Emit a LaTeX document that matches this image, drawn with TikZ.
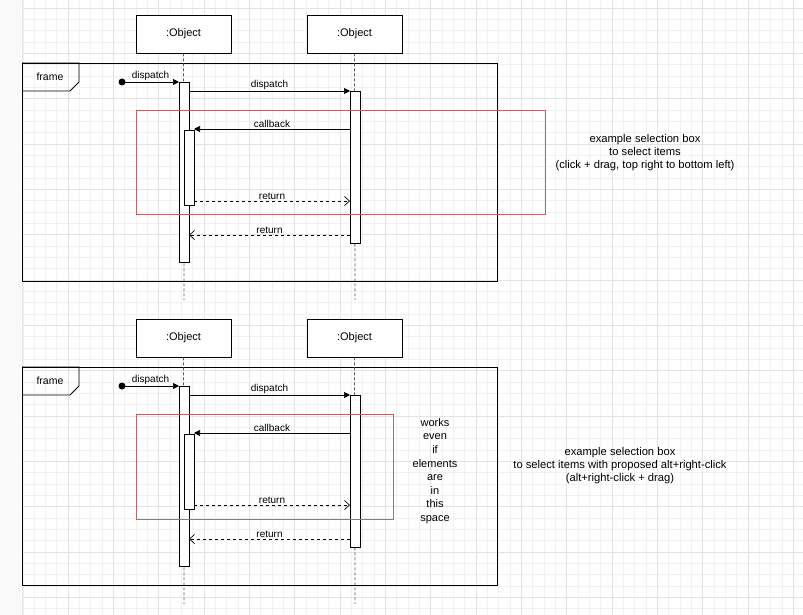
\documentclass[tikz,border=0pt]{standalone}
\usepackage{fontspec}
\setmainfont{Liberation Sans}
\usetikzlibrary{arrows.meta}
\begin{document}
\begin{tikzpicture}[x=1pt,y=-1pt,
  obj/.style={draw,fill=white,line width=0.8pt,minimum width=95pt,minimum height=38pt,inner sep=0pt,font=\fontsize{11}{12}\selectfont},
  act/.style={draw,fill=white,line width=0.7pt},
  life/.style={densely dashed,line width=0.8pt,gray!70!black},
  lbl/.style={font=\fontsize{10}{11}\selectfont,inner sep=1.5pt},
  msg/.style={line width=0.7pt,-{Triangle[length=6pt,width=6pt]}},
  ret/.style={line width=0.7pt,dashed,-{Straight Barb[length=5pt,width=9pt]}},
  sel/.style={draw=red!55!black!60,line width=0.7pt},
  note/.style={font=\fontsize{11.2}{13}\selectfont,align=center}]
\useasboundingbox (0,0) rectangle (803,615);
\fill[white] (0,0) rectangle (803,615);
\fill[gray!5] (0,0) rectangle (21,615);
\foreach \i in {0,...,69} {\draw[gray!11,line width=0.4pt] (22.7+\i*11.33,0) -- (22.7+\i*11.33,615);}
\foreach \i in {-1,...,54} {\draw[gray!11,line width=0.4pt] (22,8+\i*11.33) -- (803,8+\i*11.33);}
\foreach \i in {0,...,17} {\draw[gray!22,line width=0.5pt] (22.7+\i*45.32,0) -- (22.7+\i*45.32,615);}
\foreach \i in {0,...,13} {\draw[gray!22,line width=0.5pt] (22,8+\i*45.32) -- (803,8+\i*45.32);}
\foreach \dy/\p in {0/a,304/b} {
\begin{scope}[yshift=-\dy pt]
\node[obj] (o1\p) at (183.5,34) {:Object};
\node[obj] (o2\p) at (354.5,34) {:Object};
\draw[line width=0.8pt] (22,63) rectangle (497,281);
\draw[line width=0.8pt] (22,63) -- (79,63) -- (79,82) -- (70,91) -- (22,91);
\node[lbl,font=\fontsize{10.5}{11}\selectfont] (fr\p) at (50,77) {frame};
\coordinate (l1\p) at (184,300);
\coordinate (l2\p) at (355,300);
\draw[life] (o1\p.south) -- (l1\p);
\draw[life] (o2\p.south) -- (l2\p);
\draw[act] (179,82) rectangle (189,262);
\draw[act] (184,130) rectangle (194,205);
\draw[act] (350,91) rectangle (360,243);
\fill (122,82) circle (3.5pt);
\coordinate (s\p) at (122,82);
\coordinate (a1\p) at (179,82);
\draw[msg] (s\p) -- (a1\p) node[lbl,midway,above] {dispatch};
\coordinate (d1\p) at (189,91); \coordinate (d2\p) at (350,91);
\draw[msg] (d1\p) -- (d2\p) node[lbl,midway,above] {dispatch};
\coordinate (c1\p) at (350,129); \coordinate (c2\p) at (194,129);
\draw[msg] (c1\p) -- (c2\p) node[lbl,midway,above] {callback};
\coordinate (r1\p) at (194,201); \coordinate (r2\p) at (350,201);
\draw[ret] (r1\p) -- (r2\p) node[lbl,midway,above] {return};
\coordinate (q1\p) at (350,235); \coordinate (q2\p) at (189,235);
\draw[ret] (q1\p) -- (q2\p) node[lbl,midway,above] {return};
\end{scope}}
\draw[sel] (136,110) rectangle (545,214);
\node[note] (n1) at (645,153) {example selection box\\to select items\\(click + drag, top right to bottom left)};
\draw[sel] (136,414) rectangle (393,519);
\node[note,font=\fontsize{11}{13.6}\selectfont] (n2) at (435,471) {works\\even\\if\\elements\\are\\in\\this\\space};
\node[note] (n3) at (620,466) {example selection box\\to select items with proposed alt+right-click\\(alt+right-click + drag)};
\end{tikzpicture}
\end{document}
